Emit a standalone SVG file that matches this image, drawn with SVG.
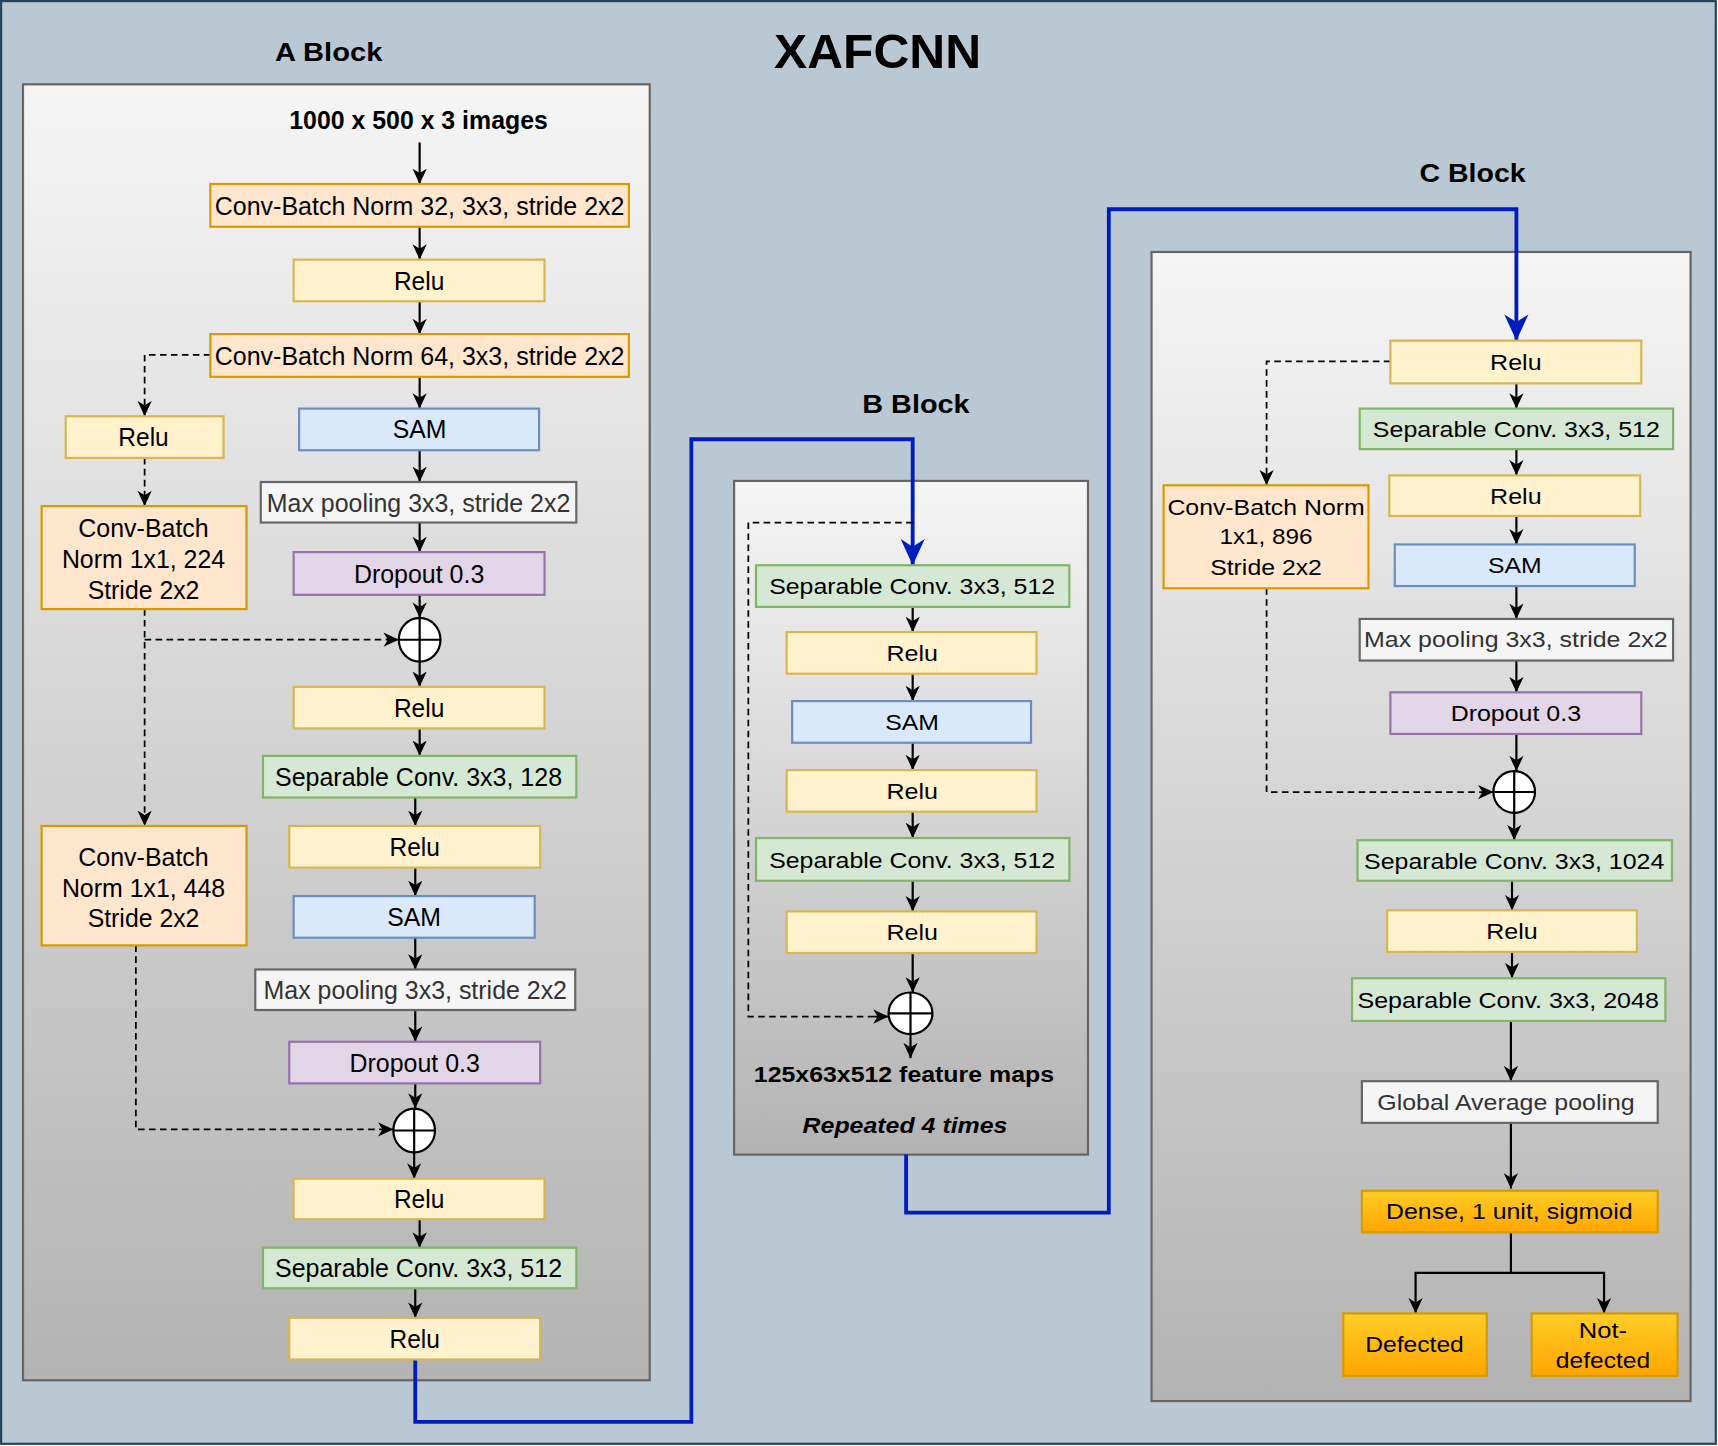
<svg xmlns="http://www.w3.org/2000/svg" width="1718" height="1446" viewBox="0 0 1718 1446">
<style>
.t{font-family:"Liberation Sans",Arial,sans-serif;font-size:23.5px;fill:#000;text-anchor:middle}
.w{font-family:"Liberation Sans",Arial,sans-serif;font-size:20.5px;fill:#000;text-anchor:middle}
.b{font-weight:bold}
.g{fill:#333333}
.or{fill:#ffe6cc;stroke:#d79b00;stroke-width:2}
.ye{fill:#fff2cc;stroke:#d6b656;stroke-width:2}
.bl{fill:#dae8fc;stroke:#6c8ebf;stroke-width:2}
.gr{fill:#f5f5f5;stroke:#666666;stroke-width:2}
.pu{fill:#e1d5e7;stroke:#9673a6;stroke-width:2}
.gn{fill:#d5e8d4;stroke:#82b366;stroke-width:2}
.de{fill:url(#dense);stroke:#d79b00;stroke-width:2}
.ct{fill:url(#cont);stroke:#666666;stroke-width:2}
.a{fill:none;stroke:#000;stroke-width:2;marker-end:url(#ah)}
.d{fill:none;stroke:#000;stroke-width:1.6;stroke-dasharray:6 4}
.da{fill:none;stroke:#000;stroke-width:1.6;stroke-dasharray:6 4;marker-end:url(#ah)}
.bw{fill:none;stroke:#001dbc;stroke-width:3.5;marker-end:url(#ahb)}
.sum{fill:#fff;stroke:#000;stroke-width:2}
.sx{stroke:#000;stroke-width:2}
</style>
<defs>
<linearGradient id="cont" x1="0" y1="0" x2="0" y2="1"><stop offset="0" stop-color="#f5f5f5"/><stop offset="1" stop-color="#b3b3b3"/></linearGradient>
<linearGradient id="dense" x1="0" y1="0" x2="0" y2="1"><stop offset="0" stop-color="#ffcd28"/><stop offset="1" stop-color="#ffa500"/></linearGradient>
<marker id="ah" viewBox="0 0 14 14" refX="14" refY="7" markerWidth="14" markerHeight="14" markerUnits="userSpaceOnUse" orient="auto"><path d="M0,0.5 L14,7 L0,13.5 L4,7 z" fill="#000"/></marker>
<marker id="ahb" viewBox="0 0 24 24" refX="24" refY="12" markerWidth="24" markerHeight="24" markerUnits="userSpaceOnUse" orient="auto"><path d="M0,1 L24,12 L0,23 L7,12 z" fill="#001dbc"/></marker>
</defs>
<g transform="scale(1.09566,1.09545)">
<rect x="1" y="1" width="1565" height="1317" fill="#bac8d3" stroke="#23445d" stroke-width="2"/>
<text class="t b" x="801" y="62" style="font-size:44px" textLength="189" lengthAdjust="spacingAndGlyphs">XAFCNN</text>

<g id="blockA">
<text class="t b" x="300" y="56" style="font-size:24px" textLength="98" lengthAdjust="spacingAndGlyphs">A Block</text>
<rect class="ct" x="21" y="77" width="572" height="1183"/>
<text class="t b" x="382" y="118" textLength="236" lengthAdjust="spacingAndGlyphs">1000 x 500 x 3 images</text>
</g>
<g id="blockB">
<text class="w b" x="836" y="377" style="font-size:24px" textLength="98" lengthAdjust="spacingAndGlyphs">B Block</text>
<rect class="ct" x="670" y="439" width="323" height="615"/>
<text class="w b" x="825" y="988" textLength="274" lengthAdjust="spacingAndGlyphs">125x63x512 feature maps</text>
<text class="w b" x="826" y="1034" style="font-style:italic" textLength="187" lengthAdjust="spacingAndGlyphs">Repeated 4 times</text>
</g>
<g id="blockC">
<text class="w b" x="1344" y="166" style="font-size:24px" textLength="97" lengthAdjust="spacingAndGlyphs">C Block</text>
<rect class="ct" x="1051" y="230" width="492" height="1049"/>
</g>

<g id="connectors">
<path class="a" d="M383,130 V168"/>
<path class="a" d="M383,207 V237"/>
<path class="a" d="M383,275 V305"/>
<path class="a" d="M383,344 V373"/>
<path class="a" d="M383,411 V440"/>
<path class="a" d="M383,477 V504"/>
<path class="a" d="M383,543 V564"/>
<path class="a" d="M383,604 V627"/>
<path class="a" d="M383,665 V690"/>
<path class="a" d="M379,728 V754"/>
<path class="a" d="M379,792 V818"/>
<path class="a" d="M379,856 V885"/>
<path class="a" d="M379,922 V951"/>
<path class="a" d="M379,989 V1012"/>
<path class="a" d="M378,1052 V1076"/>
<path class="a" d="M383,1113 V1139"/>
<path class="a" d="M379,1176 V1203"/>
<path class="da" d="M192,324 H132 V380"/>
<path class="da" d="M132,418 V462"/>
<path class="da" d="M132,556 V754"/>
<path class="da" d="M132,584 H364"/>
<path class="da" d="M124,863 V1031 H359"/>
<path class="bw" d="M379,1241 V1298 H631 V401 H833 V516"/>
<path class="d" d="M833,477 H683 V928 H800"/>
<path class="da" d="M798,928 H811"/>
<path class="a" d="M833,554 V577"/>
<path class="a" d="M833,615 V640"/>
<path class="a" d="M833,678 V703"/>
<path class="a" d="M833,741 V765"/>
<path class="a" d="M833,804 V832"/>
<path class="a" d="M833,870 V906"/>
<path class="a" d="M831,944 V966"/>
<path class="bw" d="M827,1054 V1107 H1012 V191 H1384 V311"/>
<path class="da" d="M1269,330 H1156 V443"/>
<path class="da" d="M1156,537 V723 H1363"/>
<path class="a" d="M1384,350 V373"/>
<path class="a" d="M1384,410 V434"/>
<path class="a" d="M1384,471 V497"/>
<path class="a" d="M1384,535 V565"/>
<path class="a" d="M1384,603 V632"/>
<path class="a" d="M1384,670 V704"/>
<path class="a" d="M1382,742 V767"/>
<path class="a" d="M1380,804 V831"/>
<path class="a" d="M1380,869 V893"/>
<path class="a" d="M1379,932 V987"/>
<path class="a" d="M1379,1025 V1085"/>
<path fill="none" stroke="#000" stroke-width="2" d="M1379,1125 V1162"/>
<path class="a" d="M1379,1162 H1292 V1199"/>
<path class="a" d="M1379,1162 H1464 V1199"/>
</g>

<g id="a1"><rect class="or" x="192" y="168" width="382" height="39"/><text class="t" x="383" y="196" textLength="374" lengthAdjust="spacingAndGlyphs">Conv-Batch Norm 32, 3x3, stride 2x2</text></g>
<g id="a2"><rect class="ye" x="268" y="237" width="229" height="38"/><text class="t" x="382.5" y="264.5" textLength="46" lengthAdjust="spacingAndGlyphs">Relu</text></g>
<g id="a3"><rect class="or" x="192" y="305" width="382" height="39"/><text class="t" x="383" y="333" textLength="374" lengthAdjust="spacingAndGlyphs">Conv-Batch Norm 64, 3x3, stride 2x2</text></g>
<g id="a4"><rect class="bl" x="273" y="373" width="219" height="38"/><text class="t" x="383" y="400" textLength="49" lengthAdjust="spacingAndGlyphs">SAM</text></g>
<g id="a5"><rect class="gr" x="238" y="440" width="288" height="37"/><text class="t g" x="382" y="467" textLength="277" lengthAdjust="spacingAndGlyphs">Max pooling 3x3, stride 2x2</text></g>
<g id="a6"><rect class="pu" x="268" y="504" width="229" height="39"/><text class="t" x="382.5" y="532" textLength="119" lengthAdjust="spacingAndGlyphs">Dropout 0.3</text></g>
<g id="a7"><ellipse class="sum" cx="383" cy="584" rx="19" ry="20"/><path class="sx" d="M364,584 H402 M383,564 V604"/></g>
<g id="a8"><rect class="ye" x="268" y="627" width="229" height="38"/><text class="t" x="382.5" y="654.5" textLength="46" lengthAdjust="spacingAndGlyphs">Relu</text></g>
<g id="a9"><rect class="gn" x="240" y="690" width="286" height="38"/><text class="t" x="382" y="717.5" textLength="262" lengthAdjust="spacingAndGlyphs">Separable Conv. 3x3, 128</text></g>
<g id="a10"><rect class="ye" x="264" y="754" width="229" height="38"/><text class="t" x="378.5" y="781.5" textLength="46" lengthAdjust="spacingAndGlyphs">Relu</text></g>
<g id="a11"><rect class="bl" x="268" y="818" width="220" height="38"/><text class="t" x="378" y="845" textLength="49" lengthAdjust="spacingAndGlyphs">SAM</text></g>
<g id="a12"><rect class="gr" x="233" y="885" width="292" height="37"/><text class="t g" x="379" y="912" textLength="277" lengthAdjust="spacingAndGlyphs">Max pooling 3x3, stride 2x2</text></g>
<g id="a13"><rect class="pu" x="264" y="951" width="229" height="38"/><text class="t" x="378.5" y="978.5" textLength="119" lengthAdjust="spacingAndGlyphs">Dropout 0.3</text></g>
<g id="a14"><ellipse class="sum" cx="378" cy="1032" rx="19" ry="20"/><path class="sx" d="M359,1032 H397 M378,1012 V1052"/></g>
<g id="a15"><rect class="ye" x="268" y="1076" width="229" height="37"/><text class="t" x="382.5" y="1103" textLength="46" lengthAdjust="spacingAndGlyphs">Relu</text></g>
<g id="a16"><rect class="gn" x="240" y="1139" width="286" height="37"/><text class="t" x="382" y="1166" textLength="262" lengthAdjust="spacingAndGlyphs">Separable Conv. 3x3, 512</text></g>
<g id="a17"><rect class="ye" x="264" y="1203" width="229" height="38"/><text class="t" x="378.5" y="1230.5" textLength="46" lengthAdjust="spacingAndGlyphs">Relu</text></g>
<g id="a18"><rect class="ye" x="60" y="380" width="144" height="38"/><text class="t" x="131" y="407.5" textLength="46" lengthAdjust="spacingAndGlyphs">Relu</text></g>
<g id="a19"><rect class="or" x="38" y="462" width="187" height="94"/>
<text class="t" x="131" y="490.5" textLength="119" lengthAdjust="spacingAndGlyphs">Conv-Batch</text>
<text class="t" x="131" y="518.5" textLength="149" lengthAdjust="spacingAndGlyphs">Norm 1x1, 224</text>
<text class="t" x="131" y="546.5" textLength="102" lengthAdjust="spacingAndGlyphs">Stride 2x2</text></g>
<g id="a20"><rect class="or" x="38" y="754" width="187" height="109"/>
<text class="t" x="131" y="790.5" textLength="119" lengthAdjust="spacingAndGlyphs">Conv-Batch</text>
<text class="t" x="131" y="818.5" textLength="149" lengthAdjust="spacingAndGlyphs">Norm 1x1, 448</text>
<text class="t" x="131" y="846.5" textLength="102" lengthAdjust="spacingAndGlyphs">Stride 2x2</text></g>

<g id="b1"><rect class="gn" x="690" y="516" width="286" height="38"/><text class="w" x="832.5" y="542" textLength="261" lengthAdjust="spacingAndGlyphs">Separable Conv. 3x3, 512</text></g>
<g id="b2"><rect class="ye" x="718" y="577" width="228" height="38"/><text class="w" x="832.5" y="603" textLength="47" lengthAdjust="spacingAndGlyphs">Relu</text></g>
<g id="b3"><rect class="bl" x="723" y="640" width="218" height="38"/><text class="w" x="832.5" y="666" textLength="49" lengthAdjust="spacingAndGlyphs">SAM</text></g>
<g id="b4"><rect class="ye" x="718" y="703" width="228" height="38"/><text class="w" x="832.5" y="729" textLength="47" lengthAdjust="spacingAndGlyphs">Relu</text></g>
<g id="b5"><rect class="gn" x="690" y="765" width="286" height="39"/><text class="w" x="832.5" y="792" textLength="261" lengthAdjust="spacingAndGlyphs">Separable Conv. 3x3, 512</text></g>
<g id="b6"><rect class="ye" x="718" y="832" width="228" height="38"/><text class="w" x="832.5" y="858" textLength="47" lengthAdjust="spacingAndGlyphs">Relu</text></g>
<g id="b7"><ellipse class="sum" cx="831" cy="925" rx="20" ry="19"/><path class="sx" d="M811,925 H851 M831,906 V944"/></g>

<g id="c1"><rect class="ye" x="1269" y="311" width="229" height="39"/><text class="w" x="1383.5" y="338" textLength="47" lengthAdjust="spacingAndGlyphs">Relu</text></g>
<g id="c2"><rect class="gn" x="1241" y="373" width="286" height="37"/><text class="w" x="1384" y="399" textLength="262" lengthAdjust="spacingAndGlyphs">Separable Conv. 3x3, 512</text></g>
<g id="c3"><rect class="ye" x="1268" y="434" width="229" height="37"/><text class="w" x="1383.5" y="460" textLength="47" lengthAdjust="spacingAndGlyphs">Relu</text></g>
<g id="c4"><rect class="bl" x="1273" y="497" width="219" height="38"/><text class="w" x="1382.5" y="523" textLength="49" lengthAdjust="spacingAndGlyphs">SAM</text></g>
<g id="c5"><rect class="gr" x="1241" y="565" width="286" height="38"/><text class="w g" x="1383.5" y="591" textLength="277" lengthAdjust="spacingAndGlyphs">Max pooling 3x3, stride 2x2</text></g>
<g id="c6"><rect class="pu" x="1269" y="632" width="229" height="38"/><text class="w" x="1383.5" y="658" textLength="119" lengthAdjust="spacingAndGlyphs">Dropout 0.3</text></g>
<g id="c7"><ellipse class="sum" cx="1382" cy="723" rx="19" ry="19"/><path class="sx" d="M1363,723 H1401 M1382,704 V742"/></g>
<g id="c8"><rect class="gn" x="1239" y="767" width="287" height="37"/><text class="w" x="1382" y="793" textLength="274" lengthAdjust="spacingAndGlyphs">Separable Conv. 3x3, 1024</text></g>
<g id="c9"><rect class="ye" x="1266" y="831" width="228" height="38"/><text class="w" x="1380" y="857" textLength="47" lengthAdjust="spacingAndGlyphs">Relu</text></g>
<g id="c10"><rect class="gn" x="1234" y="893" width="286" height="39"/><text class="w" x="1376.5" y="920" textLength="275" lengthAdjust="spacingAndGlyphs">Separable Conv. 3x3, 2048</text></g>
<g id="c11"><rect class="gr" x="1243" y="987" width="270" height="38"/><text class="w g" x="1374.5" y="1013" textLength="235" lengthAdjust="spacingAndGlyphs">Global Average pooling</text></g>
<g id="c12"><rect class="de" x="1243" y="1087" width="270" height="38"/><text class="w" x="1377.5" y="1113" textLength="225" lengthAdjust="spacingAndGlyphs">Dense, 1 unit, sigmoid</text></g>
<g id="c13"><rect class="de" x="1226" y="1199" width="131" height="57"/><text class="w" x="1291" y="1234" textLength="90" lengthAdjust="spacingAndGlyphs">Defected</text></g>
<g id="c14"><rect class="de" x="1398" y="1199" width="133" height="57"/><text class="w" x="1463" y="1221" textLength="44" lengthAdjust="spacingAndGlyphs">Not-</text><text class="w" x="1463" y="1249" textLength="86" lengthAdjust="spacingAndGlyphs">defected</text></g>
<g id="c15"><rect class="or" x="1062" y="443" width="187" height="94"/>
<text class="w" x="1155.5" y="470" textLength="180" lengthAdjust="spacingAndGlyphs">Conv-Batch Norm</text>
<text class="w" x="1155.5" y="497" textLength="85" lengthAdjust="spacingAndGlyphs">1x1, 896</text>
<text class="w" x="1155.5" y="525" textLength="102" lengthAdjust="spacingAndGlyphs">Stride 2x2</text></g>
</g>
</svg>
